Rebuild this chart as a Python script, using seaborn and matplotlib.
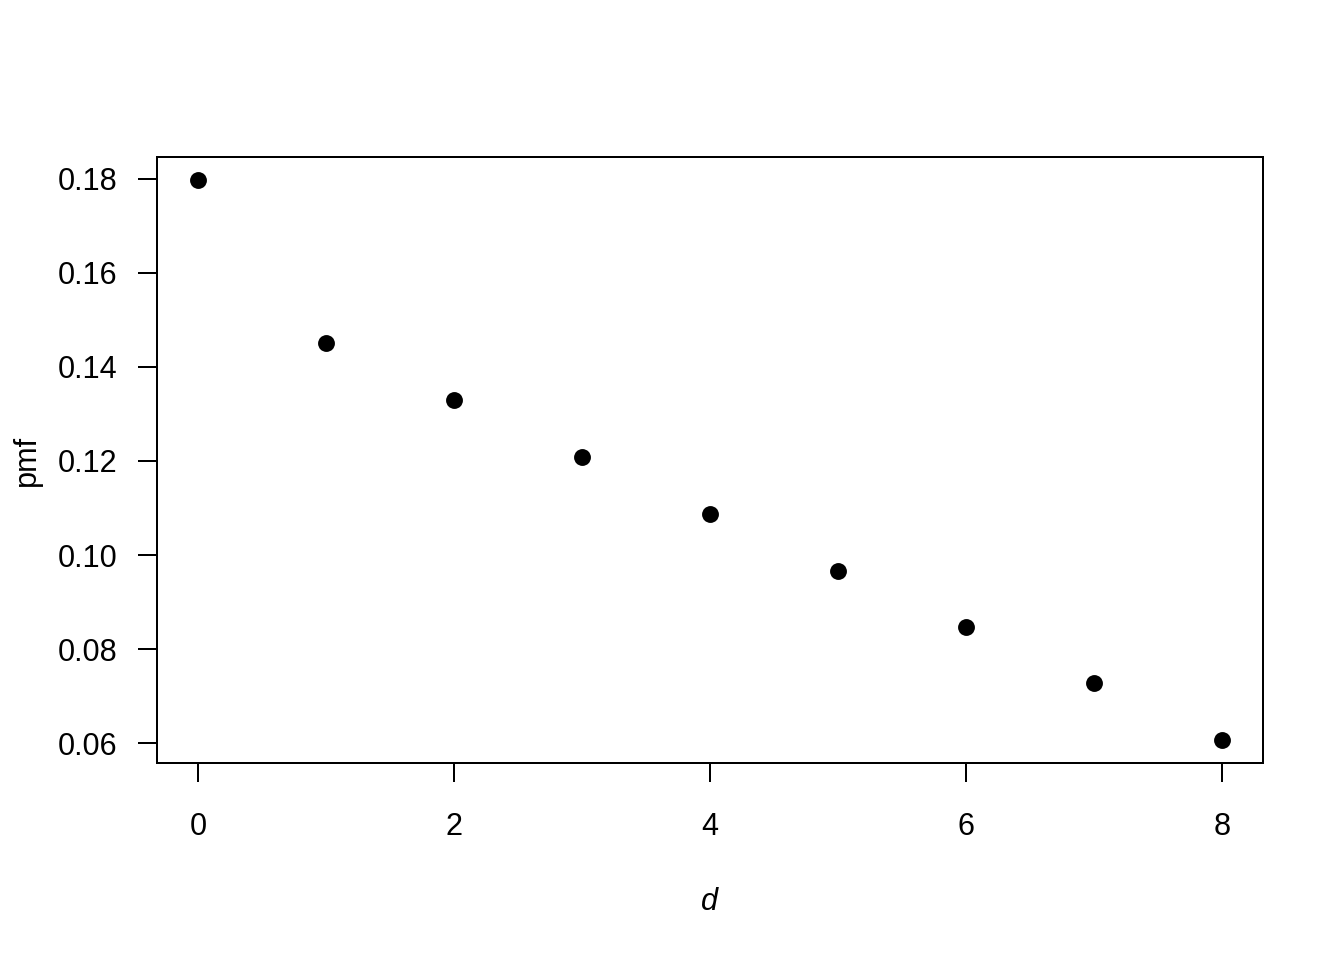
import numpy as np
import pandas as pd
import seaborn as sns
import matplotlib.pyplot as plt

# values
d_values = [0, 1, 2, 3, 4, 5, 6, 7, 8]
pmf_values = [0.1798, 0.1450, 0.1329, 0.1208, 0.1088, 0.0967, 0.0846, 0.0727, 0.0606]
x_ticks = [0, 2, 4, 6, 8]
y_ticks = [0.06, 0.08, 0.10, 0.12, 0.14, 0.16, 0.18]

sns.set_theme(style="white")
plt.rcParams['font.family'] = ['Liberation Sans', 'DejaVu Sans']

df = pd.DataFrame({'d': d_values, 'pmf': pmf_values})

fig = plt.figure(figsize=(7, 5), dpi=192)
ax = fig.add_axes([0.1168, 0.2052, 0.9397 - 0.1168, 0.8365 - 0.2052])

sns.scatterplot(data=df, x='d', y='pmf', ax=ax, color='black', s=40, edgecolor='black', linewidth=0)

ax.set_xlim(-0.32, 8.32)
ax.set_ylim(0.0558, 0.1846)
ax.set_xticks(x_ticks)
ax.set_xticklabels([str(t) for t in x_ticks])
ax.set_yticks(y_ticks)
ax.set_yticklabels([f'{t:.2f}' for t in y_ticks])

for side in ax.spines.values():
    side.set_color('black')
    side.set_linewidth(0.75)

ax.tick_params(axis='both', direction='out', length=7.2, width=0.75, color='black',
               labelsize=11.5, labelcolor='black', left=True, bottom=True)
ax.tick_params(axis='x', pad=11)
ax.tick_params(axis='y', pad=7.5)

ax.set_xlabel('d', fontsize=11.5, style='italic', color='black', labelpad=17)
ax.set_ylabel('pmf', fontsize=11.5, color='black', labelpad=6)

fig.savefig('out.png', dpi=192, facecolor='white')
